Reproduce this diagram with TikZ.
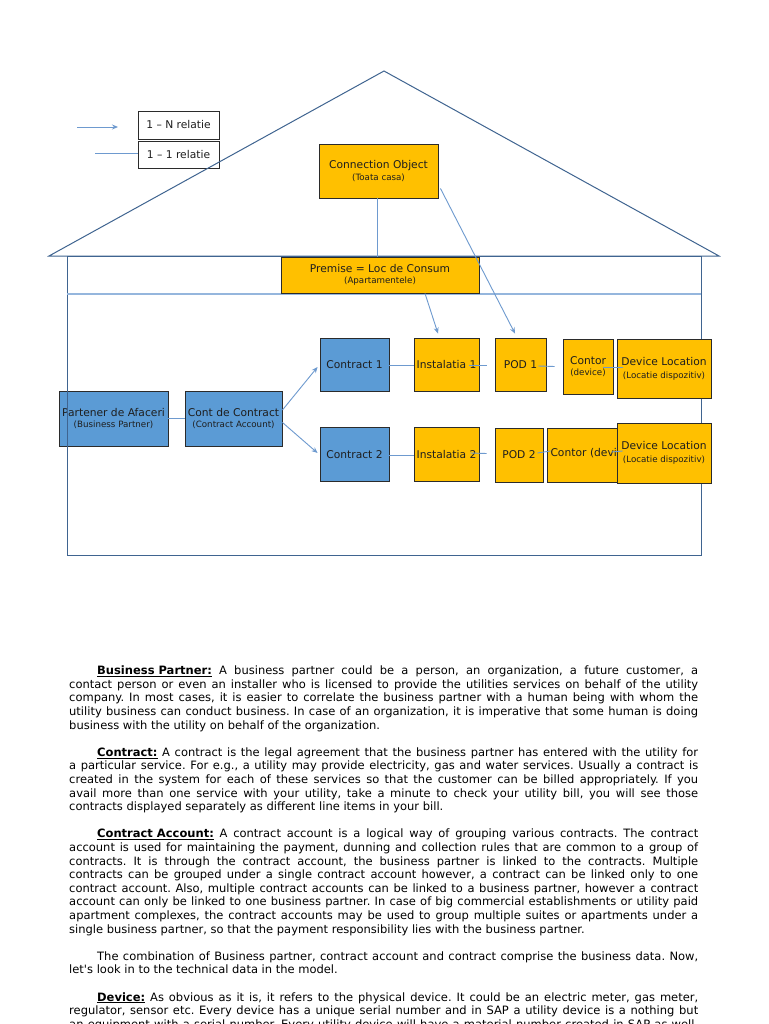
\documentclass[tikz,border=0pt]{standalone}
\usepackage{fontspec}
\setmainfont{DejaVu Sans}
\usetikzlibrary{calc,arrows.meta}
\definecolor{roofC}{HTML}{3F6490}
\definecolor{connC}{HTML}{6E9ACF}
\definecolor{innerC}{HTML}{95B6DD}
\definecolor{orangeF}{HTML}{FFC000}
\definecolor{blueF}{HTML}{5B9BD5}
\definecolor{boxline}{HTML}{2B2B2B}
\definecolor{txtC}{HTML}{1E1E1E}
\frenchspacing
\newcommand\mysub[1]{{\fontsize{8.7}{10}\selectfont #1}}
\newcommand\parjl[1]{\makebox[629pt][s]{\strut#1}}
\newcommand\parll[1]{\makebox[629pt][l]{\strut#1}}
\tikzset{
  box/.style={draw=boxline, line width=0.9pt, inner sep=0pt, align=center, text=txtC,
    font=\fontsize{10.7}{12.6}\selectfont},
  ob/.style={box, fill=orangeF},
  bb/.style={box, fill=blueF},
  legbox/.style={box, fill=white, draw=boxline},
  conn/.style={draw=connC, line width=0.9pt},
  arr/.style={conn, -{Stealth[length=6pt,width=5pt]}},
  roof/.style={draw=roofC, line width=1pt},
  para/.style={inner sep=0pt, anchor=north west, align=left, text=black,
    font=\frenchspacing\fontsize{11.5}{13.6}\selectfont},
}
\begin{document}
\begin{tikzpicture}[x=1pt,y=-1pt]
\useasboundingbox (0,0) rectangle (768,1024);
\fill[white] (0,0) rectangle (768,1024);
\clip (0,0) rectangle (768,1024);

% legend
\node[legbox, minimum width=81, minimum height=28] (legN) at (178.5,125) {1 – N relatie};
\node[legbox, minimum width=81, minimum height=27] (leg1) at (178.5,154.5) {1 – 1 relatie};
\coordinate (la1) at (77,127);
\coordinate (la2) at (118,127);
\draw[arr] (la1) -- (la2);
\coordinate (lb1) at (95,153);
\draw[conn] (lb1) -- (lb1 -| leg1.west);

% house
\draw[roof] (67,256) rectangle (701,555);
\draw[draw=innerC, line width=2pt] (67,294) -- (701,294);
\draw[roof, line join=miter] (49,256) -- (384,71) -- (719,256) -- cycle;

% boxes
\node[ob, minimum width=119, minimum height=54] (co) at (378.5,171)
  {Connection Object\\[-1pt]\mysub{(Toata casa)}};
\node[ob, minimum width=198, minimum height=36] (prem) at (380,275)
  {Premise = Loc de Consum\\[-1pt]\mysub{(Apartamentele)}};

\node[bb, minimum width=109, minimum height=55] (bp) at (113.5,418.5)
  {Partener de Afaceri\\[-1pt]\mysub{(Business Partner)}};
\node[bb, minimum width=97, minimum height=55] (ca) at (233.5,418.5)
  {Cont de Contract\\[-1pt]\mysub{(Contract Account)}};

\node[bb, minimum width=69, minimum height=53] (c1) at (354.5,364.5) {Contract 1};
\node[ob, minimum width=65, minimum height=53] (i1) at (446.5,364.5) {Instalatia 1};
\node[ob, minimum width=51, minimum height=53] (pod1) at (520.5,364.5) {POD 1};
\node[ob, minimum width=50, minimum height=55] (cont1) at (588,366.5)
  {Contor\\[-2pt]\mysub{(device)}};
\node[ob, minimum width=94, minimum height=59] (dl1) at (664,368.5)
  {\raisebox{1.5pt}{Device Location}\\[-1pt]\mysub{(Locatie dispozitiv)}};

\node[bb, minimum width=69, minimum height=54] (c2) at (354.5,454.5) {Contract 2};
\node[ob, minimum width=65, minimum height=54] (i2) at (446.5,454.5) {Instalatia 2};
\node[ob, minimum width=48, minimum height=54] (pod2) at (519,455) {POD 2};
\node[ob, minimum width=70, minimum height=54, text width=63] (cont2) at (582,455)
  {\raisebox{6pt}{\makebox[63pt][l]{Contor (device)}}};
\node[ob, minimum width=94, minimum height=60] (dl2) at (664,453)
  {\raisebox{1.5pt}{Device Location}\\[-1pt]\mysub{(Locatie dispozitiv)}};

% left wall over the partner box
\draw[roof] (67,380) -- (67,460);

% connectors
\draw[conn] (co.south -| 377,0) -- (prem.north -| 377,0);
\draw[arr] ($(co.south east)+(2,-10)$) -- ($(pod1.north)+(-5.5,-4)$);
\draw[arr] ($(prem.south)+(45,0)$) -- ($(i1.north)+(-8.5,-4)$);
\draw[conn] (bp.east) -- (ca.west);
\draw[arr] ($(ca.east)+(0,-8.5)$) -- ($(c1.west)+(-2,2.5)$);
\draw[arr] ($(ca.east)+(0,4)$) -- ($(c2.west)+(-2,-1.5)$);

\draw[conn] ($(c1.east)+(0,0.5)$) -- ($(i1.west)+(0,0.5)$);
\draw[conn] ($(i1.east)+(-10,1)$) -- ($(pod1.west)+(-8,1)$);
\draw[conn] ($(pod1.east)+(-8,1.5)$) -- ($(cont1.west)+(-8,0)$);
\draw[conn] ($(cont1.east)+(-10,0.5)$) -- ($(dl1.west)+(6,-1.5)$);

\draw[conn] ($(c2.east)+(0,0.5)$) -- ($(i2.west)+(0,0.5)$);
\draw[conn] ($(i2.east)+(-9,-1.5)$) -- ($(pod2.west)+(-8,-1.5)$);
\draw[conn] ($(pod2.east)+(-6,-2)$) -- ($(cont2.west)+(4,-4)$);
\draw[conn] ($(cont2.east)+(-6,-3)$) -- ($(dl2.west)+(6,-2)$);

% text
\node[para] (p1) at (69,665) {%
\parjl{\hspace*{28pt}\underline{\textbf{Business Partner:}} A business partner could be a person, an organization, a future customer, a}\\
\parjl{contact person or even an installer who is licensed to provide the utilities services on behalf of the utility}\\
\parjl{company. In most cases, it is easier to correlate the business partner with a human being with whom the}\\
\parjl{utility business can conduct business. In case of an organization, it is imperative that some human is doing}\\
\parll{business with the utility on behalf of the organization.}};

\node[para] (p2) at (69,746.6) {%
\parjl{\hspace*{28pt}\underline{\textbf{Contract:}} A contract is the legal agreement that the business partner has entered with the utility for}\\
\parjl{a particular service. For e.g., a utility may provide electricity, gas and water services. Usually a contract is}\\
\parjl{created in the system for each of these services so that the customer can be billed appropriately. If you}\\
\parjl{avail more than one service with your utility, take a minute to check your utility bill, you will see those}\\
\parll{contracts displayed separately as different line items in your bill.}};

\node[para] (p3) at (69,828.2) {%
\parjl{\hspace*{28pt}\underline{\textbf{Contract Account:}} A contract account is a logical way of grouping various contracts. The contract}\\
\parjl{account is used for maintaining the payment, dunning and collection rules that are common to a group of}\\
\parjl{contracts. It is through the contract account, the business partner is linked to the contracts. Multiple}\\
\parjl{contracts can be grouped under a single contract account however, a contract can be linked only to one}\\
\parjl{contract account. Also, multiple contract accounts can be linked to a business partner, however a contract}\\
\parjl{account can only be linked to one business partner. In case of big commercial establishments or utility paid}\\
\parjl{apartment complexes, the contract accounts may be used to group multiple suites or apartments under a}\\
\parll{single business partner, so that the payment responsibility lies with the business partner.}};

\node[para] (p4) at (69,950.6) {%
\parjl{\hspace*{28pt}The combination of Business partner, contract account and contract comprise the business data. Now,}\\
\parll{let\textquotesingle s look in to the technical data in the model.}};

\node[para] (p5) at (69,991.4) {%
\parjl{\hspace*{28pt}\underline{\textbf{Device:}} As obvious as it is, it refers to the physical device. It could be an electric meter, gas meter,}\\
\parjl{regulator, sensor etc. Every device has a unique serial number and in SAP a utility device is a nothing but}\\
\parjl{an equipment with a serial number. Every utility device will have a material number created in SAP as well.}};
\end{tikzpicture}
\end{document}
